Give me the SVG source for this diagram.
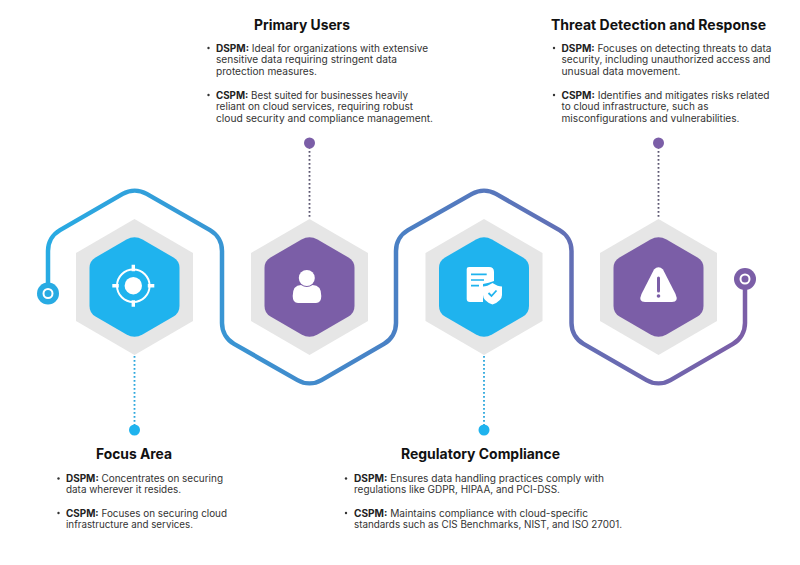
<svg xmlns="http://www.w3.org/2000/svg" width="800" height="565" viewBox="0 0 800 565">
<style>
.t{font:700 14px "Inter","Liberation Sans",sans-serif;fill:#111;text-anchor:middle}
.b{font:400 9.800px "Inter","Liberation Sans",sans-serif;fill:#333}
.b tspan{font-weight:700;fill:#222}
.dot{fill:#333}
.outer{fill:#e6e6e6}
.cy{fill:#1fb3ee}
.pu{fill:#7b5ea7}
.w{fill:#fff}
.dl{fill:none;stroke-width:1.800;stroke-dasharray:1.800 2.200}
</style>
<defs>
<linearGradient id="g" gradientUnits="userSpaceOnUse" x1="48" y1="0" x2="745" y2="0">
<stop offset="0" stop-color="#28abe3"/><stop offset=".5" stop-color="#4a80c4"/><stop offset="1" stop-color="#7b5ea7"/>
</linearGradient>
<path id="hexo" d="M0-68 58.500-34V34L0 68-58.500 34V-34Z"/>
<path id="hexi" d="M-8-47.500Q0-52 8-47.500L39-29.500Q45-26 45-19V19Q45 26 39 29.500L8 47.500Q0 52-8 47.500L-39 29.500Q-45 26-45 19V-19Q-45-26-39-29.500Z"/>
</defs>
<g id="connectors">
<path d="M48 285V250.900A24 24 0 0 1 60 230.100L122.700 193.900A24 24 0 0 1 146.700 193.900L210 230.100A24 24 0 0 1 222 250.900V323.100A24 24 0 0 0 234 343.900L297.500 380.100A24 24 0 0 0 321.500 380.100L384 343.900A24 24 0 0 0 396 323.100V250.900A24 24 0 0 1 408 230.100L472 193.900A24 24 0 0 1 496 193.900L559.500 230.100A24 24 0 0 1 571.500 250.900V323.100A24 24 0 0 0 583.500 343.900L646.500 380.100A24 24 0 0 0 670.500 380.100L733 343.900A24 24 0 0 0 745 323.100V285" fill="none" stroke="url(#g)" stroke-width="4.500"/>
<path class="dl" stroke="#2aa6dc" d="M134.500 356V430"/>
<path class="dl" stroke="#5b5670" d="M309.500 143V217"/>
<path class="dl" stroke="#2aa6dc" d="M484 356V430"/>
<path class="dl" stroke="#5b5670" d="M658.500 143V217"/>
<circle cx="48" cy="293.500" r="11" fill="#28abe3"/><circle cx="48" cy="293.500" r="4.500" fill="none" stroke="#fff" stroke-width="2"/>
<circle cx="745" cy="279" r="11" fill="#7b5ea7"/><circle cx="745" cy="279" r="4.500" fill="none" stroke="#fff" stroke-width="2"/>
</g>
<g id="node-focus">
<use href="#hexo" class="outer" x="134.500" y="287"/><use href="#hexi" class="cy" x="134.500" y="287"/>
<g transform="translate(133.300 285.700)">
<circle r="16.300" fill="none" stroke="#fff" stroke-width="2"/><circle r="8.700" class="w"/>
<path class="w" d="M-1.700-21H1.700V-14.500H-1.700ZM-1.700 14.500H1.700V21H-1.700ZM-21-1.700H-14.500V1.700H-21ZM14.500-1.700H21V1.700H14.500Z"/>
</g>
<circle cx="134.500" cy="430" r="5.500" class="cy"/>
<text class="t" x="134" y="459" textLength="76" lengthAdjust="spacingAndGlyphs">Focus Area</text>
<circle class="dot" cx="58.500" cy="478.500" r="1.200"/>
<text class="b" x="66" y="481.500" textLength="157" lengthAdjust="spacingAndGlyphs"><tspan>DSPM:</tspan> Concentrates on securing</text>
<text class="b" x="66" y="493" textLength="115" lengthAdjust="spacingAndGlyphs">data wherever it resides.</text>
<circle class="dot" cx="58.500" cy="513" r="1.200"/>
<text class="b" x="66" y="516.500" textLength="161" lengthAdjust="spacingAndGlyphs"><tspan>CSPM:</tspan> Focuses on securing cloud</text>
<text class="b" x="66" y="528" textLength="127" lengthAdjust="spacingAndGlyphs">infrastructure and services.</text>
</g>
<g id="node-users">
<use href="#hexo" class="outer" x="309.500" y="287"/><use href="#hexi" class="pu" x="309.500" y="287"/>
<circle cx="306.800" cy="278" r="8" class="w"/>
<path class="w" d="M292.700 296Q292.700 285 301 285Q306.800 289 312.600 285Q321.300 285 321.300 296Q321.300 303 316 303H298Q292.700 303 292.700 296Z"/>
<circle cx="309.500" cy="143" r="5.500" class="pu"/>
<text class="t" x="302" y="30" textLength="96" lengthAdjust="spacingAndGlyphs">Primary Users</text>
<circle class="dot" cx="208.500" cy="48" r="1.200"/>
<text class="b" x="216" y="51.500" textLength="212" lengthAdjust="spacingAndGlyphs"><tspan>DSPM:</tspan> Ideal for organizations with extensive</text>
<text class="b" x="216" y="63" textLength="181" lengthAdjust="spacingAndGlyphs">sensitive data requiring stringent data</text>
<text class="b" x="216" y="75" textLength="101" lengthAdjust="spacingAndGlyphs">protection measures.</text>
<circle class="dot" cx="208.500" cy="95" r="1.200"/>
<text class="b" x="216" y="98.500" textLength="192" lengthAdjust="spacingAndGlyphs"><tspan>CSPM:</tspan> Best suited for businesses heavily</text>
<text class="b" x="216" y="110" textLength="197" lengthAdjust="spacingAndGlyphs">reliant on cloud services, requiring robust</text>
<text class="b" x="216" y="122" textLength="217" lengthAdjust="spacingAndGlyphs">cloud security and compliance management.</text>
</g>
<g id="node-compliance">
<use href="#hexo" class="outer" x="484" y="287"/><use href="#hexi" class="cy" x="484" y="287"/>
<path class="w" d="M469 267H489Q494 267 494 272V281Q489 283 483 284V302H470Q466.700 302 466.700 299V269Q466.700 267 469 267Z"/>
<path d="M471 274.300H486.700M471 280H484M471 285.700H479" stroke="#1fb3ee" stroke-width="1.700" fill="none"/>
<path class="w" d="M492.500 283Q498 286.500 502 286.500V295Q502 301 492.500 304.500Q483 301 483 295V286.500Q487 286.500 492.500 283Z"/>
<path d="M488.500 293L491.500 296 496.500 290.500" stroke="#1fb3ee" stroke-width="1.800" fill="none"/>
<circle cx="484" cy="430" r="5.500" class="cy"/>
<text class="t" x="480.500" y="459" textLength="159" lengthAdjust="spacingAndGlyphs">Regulatory Compliance</text>
<circle class="dot" cx="346" cy="478.500" r="1.200"/>
<text class="b" x="354" y="481.500" textLength="250" lengthAdjust="spacingAndGlyphs"><tspan>DSPM:</tspan> Ensures data handling practices comply with</text>
<text class="b" x="354" y="493" textLength="206" lengthAdjust="spacingAndGlyphs">regulations like GDPR, HIPAA, and PCI-DSS.</text>
<circle class="dot" cx="346" cy="513" r="1.200"/>
<text class="b" x="354" y="516.500" textLength="234" lengthAdjust="spacingAndGlyphs"><tspan>CSPM:</tspan> Maintains compliance with cloud-specific</text>
<text class="b" x="354" y="528" textLength="268" lengthAdjust="spacingAndGlyphs">standards such as CIS Benchmarks, NIST, and ISO 27001.</text>
</g>
<g id="node-threat">
<use href="#hexo" class="outer" x="658.500" y="287"/><use href="#hexi" class="pu" x="658.500" y="287"/>
<path class="w" d="M654 269.500Q658.500 265 663 269.500L675.500 294Q679 302 672 302H645Q638 302 641.500 294Z"/>
<path d="M658.500 278V291" stroke="#7b5ea7" stroke-width="3" stroke-linecap="round" fill="none"/>
<circle cx="658.500" cy="296" r="1.800" class="pu"/>
<circle cx="658.500" cy="143" r="5.500" class="pu"/>
<text class="t" x="658.500" y="30" textLength="215" lengthAdjust="spacingAndGlyphs">Threat Detection and Response</text>
<circle class="dot" cx="554" cy="48" r="1.200"/>
<text class="b" x="561.500" y="51.500" textLength="210" lengthAdjust="spacingAndGlyphs"><tspan>DSPM:</tspan> Focuses on detecting threats to data</text>
<text class="b" x="561.500" y="63" textLength="209" lengthAdjust="spacingAndGlyphs">security, including unauthorized access and</text>
<text class="b" x="561.500" y="75" textLength="119" lengthAdjust="spacingAndGlyphs">unusual data movement.</text>
<circle class="dot" cx="554" cy="95" r="1.200"/>
<text class="b" x="561.500" y="98.500" textLength="208" lengthAdjust="spacingAndGlyphs"><tspan>CSPM:</tspan> Identifies and mitigates risks related</text>
<text class="b" x="561.500" y="110" textLength="147" lengthAdjust="spacingAndGlyphs">to cloud infrastructure, such as</text>
<text class="b" x="561.500" y="122" textLength="178" lengthAdjust="spacingAndGlyphs">misconfigurations and vulnerabilities.</text>
</g>
</svg>
